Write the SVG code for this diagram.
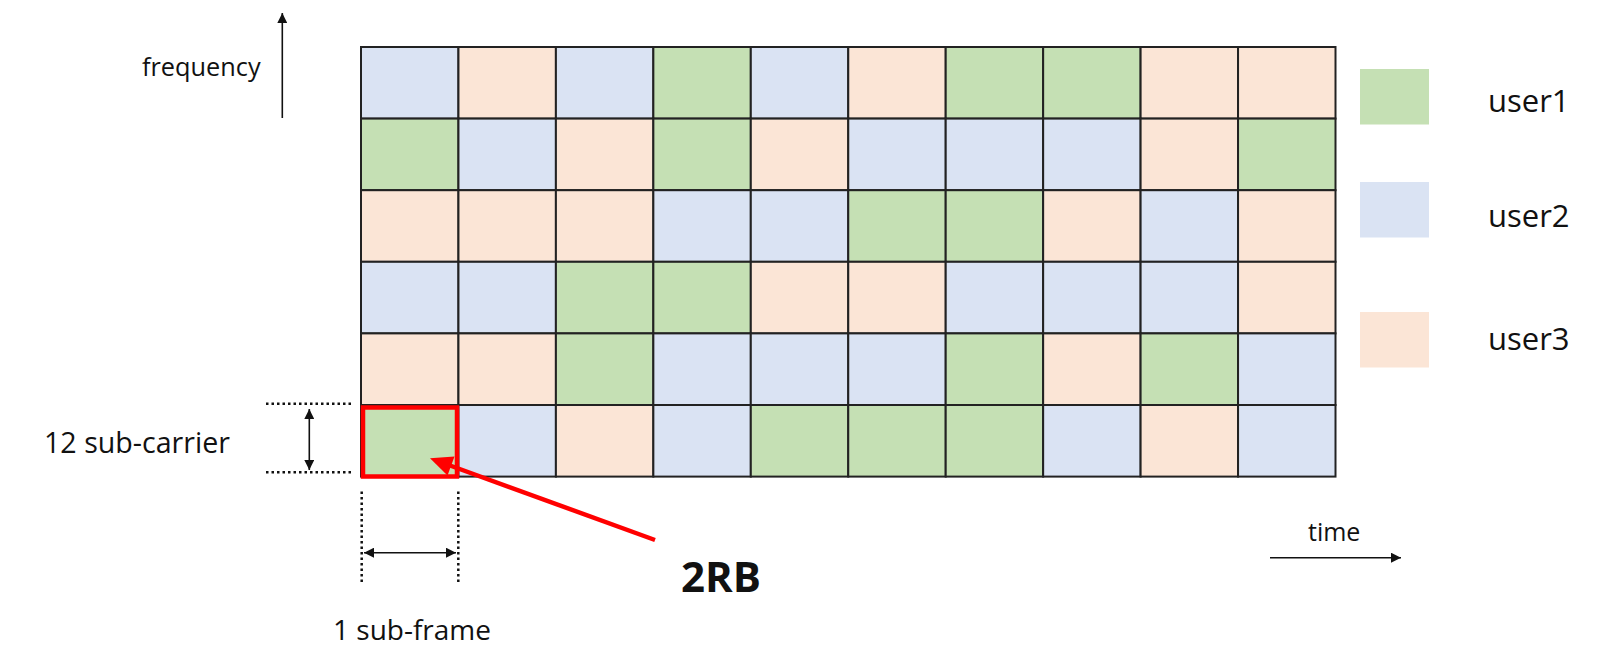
<svg xmlns="http://www.w3.org/2000/svg" width="1623" height="670" viewBox="0 0 1623 670">
<defs>
<style>
.g{fill:#C5E0B4}.b{fill:#DAE3F3}.p{fill:#FBE5D6}
.grid rect{stroke:#222;stroke-width:2}
.t{font-family:"Open Sans","Noto Sans",sans-serif;fill:#111}
.dot{stroke:#111;stroke-width:2.5;stroke-dasharray:2.5 3;fill:none}
.ln{stroke:#111;stroke-width:1.6;fill:none}
</style>
<marker id="ah" viewBox="0 0 10 10" refX="10" refY="5" markerWidth="10" markerHeight="10" markerUnits="userSpaceOnUse" orient="auto-start-reverse"><path d="M0,0 L10,5 L0,10 z" fill="#111"/></marker>
</defs>
<rect width="1623" height="670" fill="#fff"/>
<g id="grid" class="grid">
<g transform="translate(361,47)">
<rect class="b" x="0" y="0" width="97.45" height="71.6"/><rect class="p" x="97.45" y="0" width="97.45" height="71.6"/><rect class="b" x="194.9" y="0" width="97.45" height="71.6"/><rect class="g" x="292.35" y="0" width="97.45" height="71.6"/><rect class="b" x="389.8" y="0" width="97.45" height="71.6"/><rect class="p" x="487.25" y="0" width="97.45" height="71.6"/><rect class="g" x="584.7" y="0" width="97.45" height="71.6"/><rect class="g" x="682.15" y="0" width="97.45" height="71.6"/><rect class="p" x="779.6" y="0" width="97.45" height="71.6"/><rect class="p" x="877.05" y="0" width="97.45" height="71.6"/>
<rect class="g" x="0" y="71.6" width="97.45" height="71.6"/><rect class="b" x="97.45" y="71.6" width="97.45" height="71.6"/><rect class="p" x="194.9" y="71.6" width="97.45" height="71.6"/><rect class="g" x="292.35" y="71.6" width="97.45" height="71.6"/><rect class="p" x="389.8" y="71.6" width="97.45" height="71.6"/><rect class="b" x="487.25" y="71.6" width="97.45" height="71.6"/><rect class="b" x="584.7" y="71.6" width="97.45" height="71.6"/><rect class="b" x="682.15" y="71.6" width="97.45" height="71.6"/><rect class="p" x="779.6" y="71.6" width="97.45" height="71.6"/><rect class="g" x="877.05" y="71.6" width="97.45" height="71.6"/>
<rect class="p" x="0" y="143.2" width="97.45" height="71.6"/><rect class="p" x="97.45" y="143.2" width="97.45" height="71.6"/><rect class="p" x="194.9" y="143.2" width="97.45" height="71.6"/><rect class="b" x="292.35" y="143.2" width="97.45" height="71.6"/><rect class="b" x="389.8" y="143.2" width="97.45" height="71.6"/><rect class="g" x="487.25" y="143.2" width="97.45" height="71.6"/><rect class="g" x="584.7" y="143.2" width="97.45" height="71.6"/><rect class="p" x="682.15" y="143.2" width="97.45" height="71.6"/><rect class="b" x="779.6" y="143.2" width="97.45" height="71.6"/><rect class="p" x="877.05" y="143.2" width="97.45" height="71.6"/>
<rect class="b" x="0" y="214.8" width="97.45" height="71.6"/><rect class="b" x="97.45" y="214.8" width="97.45" height="71.6"/><rect class="g" x="194.9" y="214.8" width="97.45" height="71.6"/><rect class="g" x="292.35" y="214.8" width="97.45" height="71.6"/><rect class="p" x="389.8" y="214.8" width="97.45" height="71.6"/><rect class="p" x="487.25" y="214.8" width="97.45" height="71.6"/><rect class="b" x="584.7" y="214.8" width="97.45" height="71.6"/><rect class="b" x="682.15" y="214.8" width="97.45" height="71.6"/><rect class="b" x="779.6" y="214.8" width="97.45" height="71.6"/><rect class="p" x="877.05" y="214.8" width="97.45" height="71.6"/>
<rect class="p" x="0" y="286.4" width="97.45" height="71.6"/><rect class="p" x="97.45" y="286.4" width="97.45" height="71.6"/><rect class="g" x="194.9" y="286.4" width="97.45" height="71.6"/><rect class="b" x="292.35" y="286.4" width="97.45" height="71.6"/><rect class="b" x="389.8" y="286.4" width="97.45" height="71.6"/><rect class="b" x="487.25" y="286.4" width="97.45" height="71.6"/><rect class="g" x="584.7" y="286.4" width="97.45" height="71.6"/><rect class="p" x="682.15" y="286.4" width="97.45" height="71.6"/><rect class="g" x="779.6" y="286.4" width="97.45" height="71.6"/><rect class="b" x="877.05" y="286.4" width="97.45" height="71.6"/>
<rect class="g" x="0" y="358" width="97.45" height="71.6"/><rect class="b" x="97.45" y="358" width="97.45" height="71.6"/><rect class="p" x="194.9" y="358" width="97.45" height="71.6"/><rect class="b" x="292.35" y="358" width="97.45" height="71.6"/><rect class="g" x="389.8" y="358" width="97.45" height="71.6"/><rect class="g" x="487.25" y="358" width="97.45" height="71.6"/><rect class="g" x="584.7" y="358" width="97.45" height="71.6"/><rect class="b" x="682.15" y="358" width="97.45" height="71.6"/><rect class="p" x="779.6" y="358" width="97.45" height="71.6"/><rect class="b" x="877.05" y="358" width="97.45" height="71.6"/>
</g>
</g>
<g id="highlight">
<rect x="363" y="407.5" width="94" height="69" fill="none" stroke="#FF0000" stroke-width="4.5"/>
</g>
<g id="legend">
<rect class="g" x="1360" y="69" width="69" height="55.5"/>
<text class="t" x="1488" y="111.5" font-size="31">user1</text>
<rect class="b" x="1360" y="182" width="69" height="55.5"/>
<text class="t" x="1488" y="226.5" font-size="31">user2</text>
<rect class="p" x="1360" y="312" width="69" height="55.5"/>
<text class="t" x="1488" y="350" font-size="31">user3</text>
</g>
<g id="labels">
<text class="t" x="142" y="76" font-size="25.3">frequency</text>
<text class="t" x="1308" y="541" font-size="25">time</text>
<text class="t" x="44" y="453" font-size="28.6">12 sub-carrier</text>
<text class="t" x="333" y="640" font-size="28">1 sub-frame</text>
<text class="t" x="681" y="591.5" font-size="42" font-weight="bold">2RB</text>
</g>
<g id="connectors">
<line class="ln" x1="282.3" y1="118" x2="282.3" y2="13" marker-end="url(#ah)"/>
<line class="ln" x1="1270" y1="557.7" x2="1401" y2="557.7" marker-end="url(#ah)"/>
<line class="dot" x1="266" y1="403.7" x2="354" y2="403.7"/>
<line class="dot" x1="266" y1="472.3" x2="354" y2="472.3"/>
<line class="ln" x1="309.3" y1="409" x2="309.3" y2="470" marker-start="url(#ah)" marker-end="url(#ah)"/>
<line class="dot" x1="361.7" y1="491.5" x2="361.7" y2="583"/>
<line class="dot" x1="458.3" y1="491.5" x2="458.3" y2="583"/>
<line class="ln" x1="364" y1="552.7" x2="456" y2="552.7" marker-start="url(#ah)" marker-end="url(#ah)"/>
<line x1="655" y1="540" x2="450" y2="465.5" stroke="#FF0000" stroke-width="4.5"/>
<polygon points="430,458.3 454.5,456.5 447.5,475.5" fill="#FF0000"/>
</g>
</svg>
